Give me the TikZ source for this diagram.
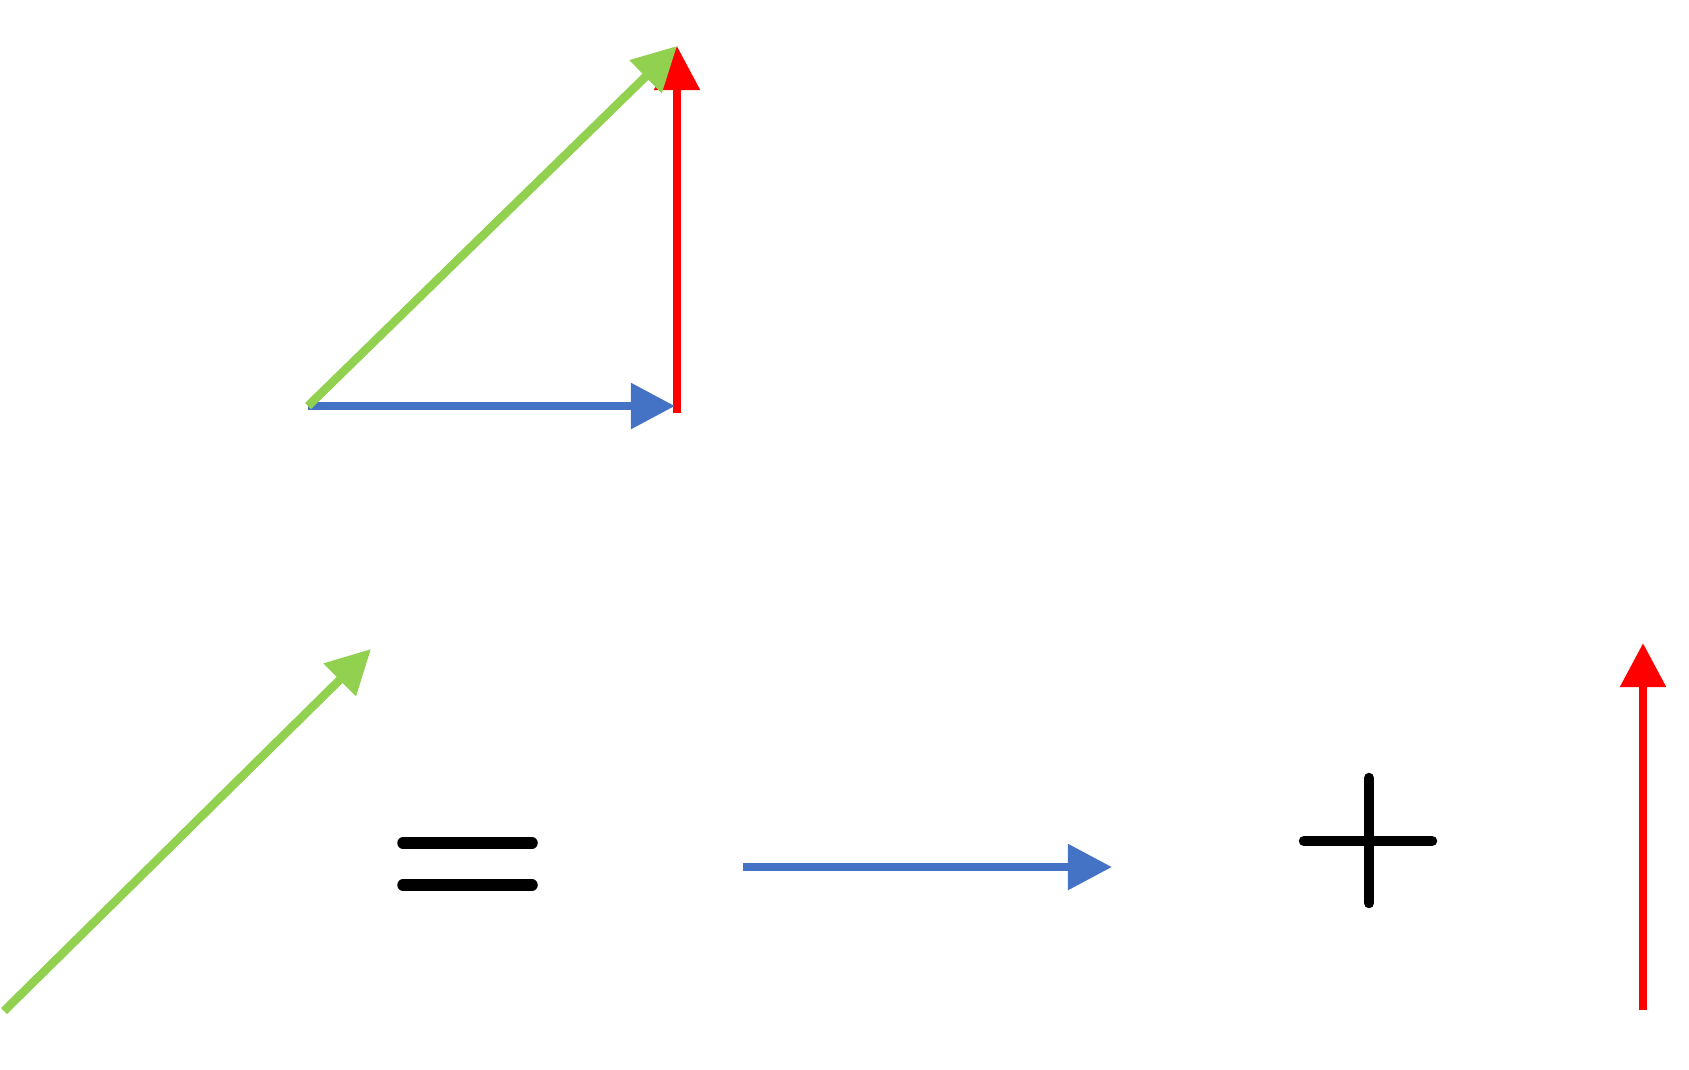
\documentclass[tikz,border=0pt]{standalone}
\usepackage{tikz}
\usetikzlibrary{arrows.meta}

\definecolor{vgreen}{HTML}{92D050}
\definecolor{vblue}{HTML}{4472C4}
\definecolor{vred}{HTML}{FF0000}

\begin{document}
\begin{tikzpicture}[x=0.01cm, y=-0.01cm,
	vec/.style={line width=0.85mm, -{Triangle[length=4.4mm, width=4.4mm]}},
	sign/.style={line width=1.15mm, line cap=round, black}]

	\useasboundingbox (0, 0) rectangle (1689, 1069);

	% triangle
	\coordinate (o)  at (308, 406);
	\coordinate (bx) at (675, 406);
	\coordinate (rb) at (677, 413);
	\coordinate (rt) at (677, 46);

	\path[vec, vred]   (rb) edge (rt);
	\path[vec, vblue]  (o)  edge (bx);
	\path[vec, vgreen] (o)  edge (rt);

	% sum
	\coordinate (g1) at (4, 1011);
	\coordinate (g2) at (371, 649);
	\coordinate (b1) at (743, 867);
	\coordinate (b2) at (1112, 867);
	\coordinate (r1) at (1643, 1010);
	\coordinate (r2) at (1643, 643);

	\path[vec, vgreen] (g1) edge (g2);
	\path[vec, vblue]  (b1) edge (b2);
	\path[vec, vred]   (r1) edge (r2);

	\draw[sign] (403, 843) -- (532, 843);
	\draw[sign] (403, 885) -- (532, 885);
	\draw[sign, line width=1.05mm] (1369, 778) -- (1369, 903);
	\draw[sign, line width=1.05mm] (1304, 841) -- (1432, 841);

\end{tikzpicture}
\end{document}
